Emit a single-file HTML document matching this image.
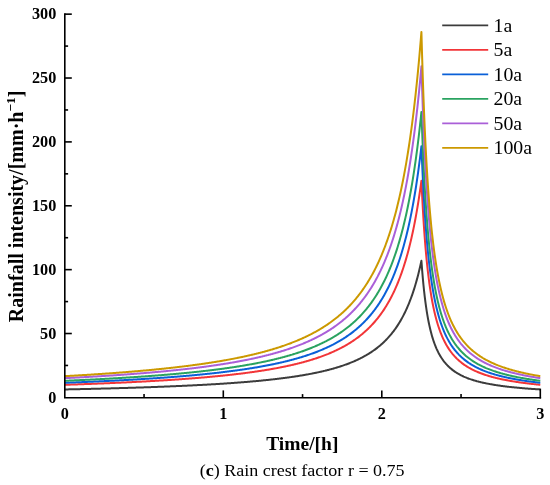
<!DOCTYPE html>
<html><head><meta charset="utf-8"><style>
html,body{margin:0;padding:0;background:#fff;}
svg{display:block;}
</style></head><body>
<svg width="550" height="485" viewBox="0 0 550 485">
<rect width="550" height="485" fill="#fff"/>
<g fill="none" stroke-width="2.0" stroke-linejoin="round" stroke-linecap="butt">
<path d="M64.80,389.46 L65.46,389.44 L66.12,389.43 L66.78,389.41 L67.44,389.40 L68.10,389.39 L68.76,389.37 L69.42,389.36 L70.08,389.35 L70.74,389.33 L71.40,389.32 L72.06,389.30 L72.72,389.29 L73.39,389.27 L74.05,389.26 L74.71,389.25 L75.37,389.23 L76.03,389.22 L76.69,389.20 L77.35,389.19 L78.01,389.17 L78.67,389.16 L79.33,389.14 L79.99,389.13 L80.65,389.11 L81.31,389.10 L81.97,389.08 L82.63,389.07 L83.29,389.05 L83.95,389.04 L84.61,389.02 L85.27,389.01 L85.93,388.99 L86.59,388.98 L87.25,388.96 L87.91,388.95 L88.57,388.93 L89.24,388.92 L89.90,388.90 L90.56,388.88 L91.22,388.87 L91.88,388.85 L92.54,388.84 L93.20,388.82 L93.86,388.80 L94.52,388.79 L95.18,388.77 L95.84,388.76 L96.50,388.74 L97.16,388.72 L97.82,388.71 L98.48,388.69 L99.14,388.67 L99.80,388.66 L100.46,388.64 L101.12,388.62 L101.78,388.61 L102.44,388.59 L103.10,388.57 L103.76,388.55 L104.42,388.54 L105.09,388.52 L105.75,388.50 L106.41,388.49 L107.07,388.47 L107.73,388.45 L108.39,388.43 L109.05,388.42 L109.71,388.40 L110.37,388.38 L111.03,388.36 L111.69,388.34 L112.35,388.33 L113.01,388.31 L113.67,388.29 L114.33,388.27 L114.99,388.25 L115.65,388.23 L116.31,388.22 L116.97,388.20 L117.63,388.18 L118.29,388.16 L118.95,388.14 L119.61,388.12 L120.27,388.10 L120.94,388.08 L121.60,388.07 L122.26,388.05 L122.92,388.03 L123.58,388.01 L124.24,387.99 L124.90,387.97 L125.56,387.95 L126.22,387.93 L126.88,387.91 L127.54,387.89 L128.20,387.87 L128.86,387.85 L129.52,387.83 L130.18,387.81 L130.84,387.79 L131.50,387.77 L132.16,387.75 L132.82,387.73 L133.48,387.71 L134.14,387.69 L134.80,387.66 L135.46,387.64 L136.12,387.62 L136.79,387.60 L137.45,387.58 L138.11,387.56 L138.77,387.54 L139.43,387.51 L140.09,387.49 L140.75,387.47 L141.41,387.45 L142.07,387.43 L142.73,387.41 L143.39,387.38 L144.05,387.36 L144.71,387.34 L145.37,387.32 L146.03,387.29 L146.69,387.27 L147.35,387.25 L148.01,387.22 L148.67,387.20 L149.33,387.18 L149.99,387.15 L150.65,387.13 L151.31,387.11 L151.97,387.08 L152.64,387.06 L153.30,387.04 L153.96,387.01 L154.62,386.99 L155.28,386.96 L155.94,386.94 L156.60,386.92 L157.26,386.89 L157.92,386.87 L158.58,386.84 L159.24,386.82 L159.90,386.79 L160.56,386.77 L161.22,386.74 L161.88,386.72 L162.54,386.69 L163.20,386.66 L163.86,386.64 L164.52,386.61 L165.18,386.59 L165.84,386.56 L166.50,386.53 L167.16,386.51 L167.82,386.48 L168.49,386.45 L169.15,386.43 L169.81,386.40 L170.47,386.37 L171.13,386.35 L171.79,386.32 L172.45,386.29 L173.11,386.26 L173.77,386.24 L174.43,386.21 L175.09,386.18 L175.75,386.15 L176.41,386.12 L177.07,386.09 L177.73,386.06 L178.39,386.04 L179.05,386.01 L179.71,385.98 L180.37,385.95 L181.03,385.92 L181.69,385.89 L182.35,385.86 L183.01,385.83 L183.67,385.80 L184.34,385.77 L185.00,385.74 L185.66,385.71 L186.32,385.68 L186.98,385.65 L187.64,385.61 L188.30,385.58 L188.96,385.55 L189.62,385.52 L190.28,385.49 L190.94,385.46 L191.60,385.42 L192.26,385.39 L192.92,385.36 L193.58,385.33 L194.24,385.29 L194.90,385.26 L195.56,385.23 L196.22,385.19 L196.88,385.16 L197.54,385.12 L198.20,385.09 L198.86,385.06 L199.52,385.02 L200.19,384.99 L200.85,384.95 L201.51,384.92 L202.17,384.88 L202.83,384.85 L203.49,384.81 L204.15,384.77 L204.81,384.74 L205.47,384.70 L206.13,384.66 L206.79,384.63 L207.45,384.59 L208.11,384.55 L208.77,384.52 L209.43,384.48 L210.09,384.44 L210.75,384.40 L211.41,384.36 L212.07,384.33 L212.73,384.29 L213.39,384.25 L214.05,384.21 L214.71,384.17 L215.37,384.13 L216.04,384.09 L216.70,384.05 L217.36,384.01 L218.02,383.97 L218.68,383.93 L219.34,383.88 L220.00,383.84 L220.66,383.80 L221.32,383.76 L221.98,383.72 L222.64,383.67 L223.30,383.63 L223.96,383.59 L224.62,383.54 L225.28,383.50 L225.94,383.46 L226.60,383.41 L227.26,383.37 L227.92,383.32 L228.58,383.28 L229.24,383.23 L229.90,383.18 L230.56,383.14 L231.22,383.09 L231.89,383.05 L232.55,383.00 L233.21,382.95 L233.87,382.90 L234.53,382.85 L235.19,382.81 L235.85,382.76 L236.51,382.71 L237.17,382.66 L237.83,382.61 L238.49,382.56 L239.15,382.51 L239.81,382.46 L240.47,382.41 L241.13,382.36 L241.79,382.30 L242.45,382.25 L243.11,382.20 L243.77,382.15 L244.43,382.09 L245.09,382.04 L245.75,381.99 L246.41,381.93 L247.07,381.88 L247.74,381.82 L248.40,381.76 L249.06,381.71 L249.72,381.65 L250.38,381.60 L251.04,381.54 L251.70,381.48 L252.36,381.42 L253.02,381.36 L253.68,381.30 L254.34,381.25 L255.00,381.19 L255.66,381.13 L256.32,381.06 L256.98,381.00 L257.64,380.94 L258.30,380.88 L258.96,380.82 L259.62,380.75 L260.28,380.69 L260.94,380.63 L261.60,380.56 L262.26,380.50 L262.92,380.43 L263.59,380.36 L264.25,380.30 L264.91,380.23 L265.57,380.16 L266.23,380.09 L266.89,380.03 L267.55,379.96 L268.21,379.89 L268.87,379.82 L269.53,379.75 L270.19,379.67 L270.85,379.60 L271.51,379.53 L272.17,379.46 L272.83,379.38 L273.49,379.31 L274.15,379.23 L274.81,379.16 L275.47,379.08 L276.13,379.00 L276.79,378.92 L277.45,378.85 L278.11,378.77 L278.77,378.69 L279.44,378.61 L280.10,378.53 L280.76,378.44 L281.42,378.36 L282.08,378.28 L282.74,378.19 L283.40,378.11 L284.06,378.02 L284.72,377.94 L285.38,377.85 L286.04,377.76 L286.70,377.67 L287.36,377.58 L288.02,377.49 L288.68,377.40 L289.34,377.31 L290.00,377.22 L290.66,377.13 L291.32,377.03 L291.98,376.94 L292.64,376.84 L293.30,376.74 L293.96,376.65 L294.62,376.55 L295.29,376.45 L295.95,376.35 L296.61,376.24 L297.27,376.14 L297.93,376.04 L298.59,375.93 L299.25,375.83 L299.91,375.72 L300.57,375.61 L301.23,375.50 L301.89,375.39 L302.55,375.28 L303.21,375.17 L303.87,375.06 L304.53,374.94 L305.19,374.83 L305.85,374.71 L306.51,374.59 L307.17,374.48 L307.83,374.36 L308.49,374.23 L309.15,374.11 L309.81,373.99 L310.47,373.86 L311.14,373.74 L311.80,373.61 L312.46,373.48 L313.12,373.35 L313.78,373.22 L314.44,373.08 L315.10,372.95 L315.76,372.81 L316.42,372.67 L317.08,372.53 L317.74,372.39 L318.40,372.25 L319.06,372.11 L319.72,371.96 L320.38,371.81 L321.04,371.67 L321.70,371.51 L322.36,371.36 L323.02,371.21 L323.68,371.05 L324.34,370.89 L325.00,370.74 L325.66,370.57 L326.32,370.41 L326.99,370.25 L327.65,370.08 L328.31,369.91 L328.97,369.74 L329.63,369.56 L330.29,369.39 L330.95,369.21 L331.61,369.03 L332.27,368.85 L332.93,368.67 L333.59,368.48 L334.25,368.29 L334.91,368.10 L335.57,367.91 L336.23,367.71 L336.89,367.51 L337.55,367.31 L338.21,367.11 L338.87,366.90 L339.53,366.69 L340.19,366.48 L340.85,366.27 L341.51,366.05 L342.17,365.83 L342.84,365.61 L343.50,365.38 L344.16,365.15 L344.82,364.92 L345.48,364.68 L346.14,364.44 L346.80,364.20 L347.46,363.96 L348.12,363.71 L348.78,363.46 L349.44,363.20 L350.10,362.94 L350.76,362.68 L351.42,362.41 L352.08,362.14 L352.74,361.86 L353.40,361.58 L354.06,361.30 L354.72,361.01 L355.38,360.72 L356.04,360.42 L356.70,360.12 L357.36,359.81 L358.02,359.50 L358.69,359.19 L359.35,358.87 L360.01,358.54 L360.67,358.21 L361.33,357.88 L361.99,357.54 L362.65,357.19 L363.31,356.84 L363.97,356.48 L364.63,356.11 L365.29,355.74 L365.95,355.37 L366.61,354.98 L367.27,354.59 L367.93,354.20 L368.59,353.79 L369.25,353.38 L369.91,352.97 L370.57,352.54 L371.23,352.11 L371.89,351.67 L372.55,351.22 L373.21,350.77 L373.88,350.30 L374.54,349.83 L375.20,349.35 L375.86,348.86 L376.52,348.36 L377.18,347.85 L377.84,347.33 L378.50,346.80 L379.16,346.26 L379.82,345.71 L380.48,345.14 L381.14,344.57 L381.80,343.99 L382.46,343.39 L383.12,342.78 L383.78,342.16 L384.44,341.53 L385.10,340.88 L385.76,340.22 L386.42,339.54 L387.08,338.85 L387.74,338.15 L388.40,337.43 L389.06,336.69 L389.72,335.93 L390.39,335.16 L391.05,334.38 L391.71,333.57 L392.37,332.74 L393.03,331.90 L393.69,331.04 L394.35,330.15 L395.01,329.24 L395.67,328.31 L396.33,327.36 L396.99,326.39 L397.65,325.39 L398.31,324.36 L398.97,323.31 L399.63,322.23 L400.29,321.12 L400.95,319.98 L401.61,318.81 L402.27,317.61 L402.93,316.38 L403.59,315.11 L404.25,313.81 L404.91,312.47 L405.57,311.10 L406.24,309.68 L406.90,308.22 L407.56,306.71 L408.22,305.17 L408.88,303.57 L409.54,301.93 L410.20,300.23 L410.86,298.48 L411.52,296.67 L412.18,294.81 L412.84,292.89 L413.50,290.90 L414.16,288.84 L414.82,286.71 L415.48,284.51 L416.14,282.23 L416.80,279.87 L417.46,277.43 L418.12,274.90 L418.78,272.27 L419.44,269.54 L420.10,266.71 L420.76,263.77 L421.42,260.71 L422.09,269.54 L422.75,277.43 L423.41,284.51 L424.07,290.90 L424.73,296.67 L425.39,301.93 L426.05,306.71 L426.71,311.10 L427.37,315.11 L428.03,318.81 L428.69,322.23 L429.35,325.39 L430.01,328.31 L430.67,331.04 L431.33,333.57 L431.99,335.93 L432.65,338.15 L433.31,340.22 L433.97,342.16 L434.63,343.99 L435.29,345.71 L435.95,347.33 L436.61,348.86 L437.27,350.30 L437.94,351.67 L438.60,352.97 L439.26,354.20 L439.92,355.37 L440.58,356.48 L441.24,357.54 L441.90,358.54 L442.56,359.50 L443.22,360.42 L443.88,361.30 L444.54,362.14 L445.20,362.94 L445.86,363.71 L446.52,364.44 L447.18,365.15 L447.84,365.83 L448.50,366.48 L449.16,367.11 L449.82,367.71 L450.48,368.29 L451.14,368.85 L451.80,369.39 L452.46,369.91 L453.12,370.41 L453.79,370.89 L454.45,371.36 L455.11,371.81 L455.77,372.25 L456.43,372.67 L457.09,373.08 L457.75,373.48 L458.41,373.86 L459.07,374.23 L459.73,374.59 L460.39,374.94 L461.05,375.28 L461.71,375.61 L462.37,375.93 L463.03,376.24 L463.69,376.55 L464.35,376.84 L465.01,377.13 L465.67,377.40 L466.33,377.67 L466.99,377.94 L467.65,378.19 L468.31,378.44 L468.97,378.69 L469.64,378.92 L470.30,379.16 L470.96,379.38 L471.62,379.60 L472.28,379.82 L472.94,380.03 L473.60,380.23 L474.26,380.43 L474.92,380.63 L475.58,380.82 L476.24,381.00 L476.90,381.19 L477.56,381.36 L478.22,381.54 L478.88,381.71 L479.54,381.88 L480.20,382.04 L480.86,382.20 L481.52,382.36 L482.18,382.51 L482.84,382.66 L483.50,382.81 L484.16,382.95 L484.82,383.09 L485.49,383.23 L486.15,383.37 L486.81,383.50 L487.47,383.63 L488.13,383.76 L488.79,383.88 L489.45,384.01 L490.11,384.13 L490.77,384.25 L491.43,384.36 L492.09,384.48 L492.75,384.59 L493.41,384.70 L494.07,384.81 L494.73,384.92 L495.39,385.02 L496.05,385.12 L496.71,385.23 L497.37,385.33 L498.03,385.42 L498.69,385.52 L499.35,385.61 L500.01,385.71 L500.67,385.80 L501.34,385.89 L502.00,385.98 L502.66,386.06 L503.32,386.15 L503.98,386.24 L504.64,386.32 L505.30,386.40 L505.96,386.48 L506.62,386.56 L507.28,386.64 L507.94,386.72 L508.60,386.79 L509.26,386.87 L509.92,386.94 L510.58,387.01 L511.24,387.08 L511.90,387.15 L512.56,387.22 L513.22,387.29 L513.88,387.36 L514.54,387.43 L515.20,387.49 L515.86,387.56 L516.52,387.62 L517.19,387.69 L517.85,387.75 L518.51,387.81 L519.17,387.87 L519.83,387.93 L520.49,387.99 L521.15,388.05 L521.81,388.10 L522.47,388.16 L523.13,388.22 L523.79,388.27 L524.45,388.33 L525.11,388.38 L525.77,388.43 L526.43,388.49 L527.09,388.54 L527.75,388.59 L528.41,388.64 L529.07,388.69 L529.73,388.74 L530.39,388.79 L531.05,388.84 L531.71,388.88 L532.38,388.93 L533.04,388.98 L533.70,389.02 L534.36,389.07 L535.02,389.11 L535.68,389.16 L536.34,389.20 L537.00,389.25 L537.66,389.29 L538.32,389.33 L538.98,389.37 L539.64,389.41 L540.30,389.46" stroke="#3c3c3c" />
<path d="M64.80,384.81 L65.46,384.79 L66.12,384.76 L66.78,384.74 L67.44,384.72 L68.10,384.70 L68.76,384.68 L69.42,384.65 L70.08,384.63 L70.74,384.61 L71.40,384.59 L72.06,384.57 L72.72,384.54 L73.39,384.52 L74.05,384.50 L74.71,384.48 L75.37,384.45 L76.03,384.43 L76.69,384.41 L77.35,384.38 L78.01,384.36 L78.67,384.34 L79.33,384.31 L79.99,384.29 L80.65,384.27 L81.31,384.24 L81.97,384.22 L82.63,384.19 L83.29,384.17 L83.95,384.15 L84.61,384.12 L85.27,384.10 L85.93,384.07 L86.59,384.05 L87.25,384.03 L87.91,384.00 L88.57,383.98 L89.24,383.95 L89.90,383.93 L90.56,383.90 L91.22,383.88 L91.88,383.85 L92.54,383.83 L93.20,383.80 L93.86,383.78 L94.52,383.75 L95.18,383.72 L95.84,383.70 L96.50,383.67 L97.16,383.65 L97.82,383.62 L98.48,383.59 L99.14,383.57 L99.80,383.54 L100.46,383.51 L101.12,383.49 L101.78,383.46 L102.44,383.43 L103.10,383.41 L103.76,383.38 L104.42,383.35 L105.09,383.33 L105.75,383.30 L106.41,383.27 L107.07,383.24 L107.73,383.22 L108.39,383.19 L109.05,383.16 L109.71,383.13 L110.37,383.10 L111.03,383.07 L111.69,383.05 L112.35,383.02 L113.01,382.99 L113.67,382.96 L114.33,382.93 L114.99,382.90 L115.65,382.87 L116.31,382.84 L116.97,382.81 L117.63,382.78 L118.29,382.75 L118.95,382.72 L119.61,382.69 L120.27,382.66 L120.94,382.63 L121.60,382.60 L122.26,382.57 L122.92,382.54 L123.58,382.51 L124.24,382.48 L124.90,382.45 L125.56,382.42 L126.22,382.39 L126.88,382.36 L127.54,382.32 L128.20,382.29 L128.86,382.26 L129.52,382.23 L130.18,382.20 L130.84,382.16 L131.50,382.13 L132.16,382.10 L132.82,382.07 L133.48,382.03 L134.14,382.00 L134.80,381.97 L135.46,381.93 L136.12,381.90 L136.79,381.87 L137.45,381.83 L138.11,381.80 L138.77,381.77 L139.43,381.73 L140.09,381.70 L140.75,381.66 L141.41,381.63 L142.07,381.59 L142.73,381.56 L143.39,381.52 L144.05,381.49 L144.71,381.45 L145.37,381.42 L146.03,381.38 L146.69,381.34 L147.35,381.31 L148.01,381.27 L148.67,381.23 L149.33,381.20 L149.99,381.16 L150.65,381.12 L151.31,381.09 L151.97,381.05 L152.64,381.01 L153.30,380.97 L153.96,380.94 L154.62,380.90 L155.28,380.86 L155.94,380.82 L156.60,380.78 L157.26,380.74 L157.92,380.70 L158.58,380.66 L159.24,380.62 L159.90,380.59 L160.56,380.55 L161.22,380.51 L161.88,380.46 L162.54,380.42 L163.20,380.38 L163.86,380.34 L164.52,380.30 L165.18,380.26 L165.84,380.22 L166.50,380.18 L167.16,380.13 L167.82,380.09 L168.49,380.05 L169.15,380.01 L169.81,379.96 L170.47,379.92 L171.13,379.88 L171.79,379.83 L172.45,379.79 L173.11,379.75 L173.77,379.70 L174.43,379.66 L175.09,379.61 L175.75,379.57 L176.41,379.52 L177.07,379.48 L177.73,379.43 L178.39,379.39 L179.05,379.34 L179.71,379.29 L180.37,379.25 L181.03,379.20 L181.69,379.15 L182.35,379.11 L183.01,379.06 L183.67,379.01 L184.34,378.96 L185.00,378.91 L185.66,378.87 L186.32,378.82 L186.98,378.77 L187.64,378.72 L188.30,378.67 L188.96,378.62 L189.62,378.57 L190.28,378.52 L190.94,378.47 L191.60,378.42 L192.26,378.36 L192.92,378.31 L193.58,378.26 L194.24,378.21 L194.90,378.16 L195.56,378.10 L196.22,378.05 L196.88,378.00 L197.54,377.94 L198.20,377.89 L198.86,377.83 L199.52,377.78 L200.19,377.72 L200.85,377.67 L201.51,377.61 L202.17,377.56 L202.83,377.50 L203.49,377.44 L204.15,377.39 L204.81,377.33 L205.47,377.27 L206.13,377.21 L206.79,377.16 L207.45,377.10 L208.11,377.04 L208.77,376.98 L209.43,376.92 L210.09,376.86 L210.75,376.80 L211.41,376.74 L212.07,376.68 L212.73,376.61 L213.39,376.55 L214.05,376.49 L214.71,376.43 L215.37,376.36 L216.04,376.30 L216.70,376.24 L217.36,376.17 L218.02,376.11 L218.68,376.04 L219.34,375.98 L220.00,375.91 L220.66,375.84 L221.32,375.78 L221.98,375.71 L222.64,375.64 L223.30,375.57 L223.96,375.51 L224.62,375.44 L225.28,375.37 L225.94,375.30 L226.60,375.23 L227.26,375.16 L227.92,375.08 L228.58,375.01 L229.24,374.94 L229.90,374.87 L230.56,374.79 L231.22,374.72 L231.89,374.65 L232.55,374.57 L233.21,374.50 L233.87,374.42 L234.53,374.35 L235.19,374.27 L235.85,374.19 L236.51,374.11 L237.17,374.04 L237.83,373.96 L238.49,373.88 L239.15,373.80 L239.81,373.72 L240.47,373.64 L241.13,373.55 L241.79,373.47 L242.45,373.39 L243.11,373.31 L243.77,373.22 L244.43,373.14 L245.09,373.05 L245.75,372.97 L246.41,372.88 L247.07,372.79 L247.74,372.71 L248.40,372.62 L249.06,372.53 L249.72,372.44 L250.38,372.35 L251.04,372.26 L251.70,372.17 L252.36,372.07 L253.02,371.98 L253.68,371.89 L254.34,371.79 L255.00,371.70 L255.66,371.60 L256.32,371.51 L256.98,371.41 L257.64,371.31 L258.30,371.21 L258.96,371.11 L259.62,371.01 L260.28,370.91 L260.94,370.81 L261.60,370.71 L262.26,370.61 L262.92,370.50 L263.59,370.40 L264.25,370.29 L264.91,370.19 L265.57,370.08 L266.23,369.97 L266.89,369.86 L267.55,369.75 L268.21,369.64 L268.87,369.53 L269.53,369.42 L270.19,369.30 L270.85,369.19 L271.51,369.07 L272.17,368.96 L272.83,368.84 L273.49,368.72 L274.15,368.60 L274.81,368.48 L275.47,368.36 L276.13,368.24 L276.79,368.12 L277.45,367.99 L278.11,367.87 L278.77,367.74 L279.44,367.61 L280.10,367.48 L280.76,367.35 L281.42,367.22 L282.08,367.09 L282.74,366.96 L283.40,366.82 L284.06,366.69 L284.72,366.55 L285.38,366.41 L286.04,366.27 L286.70,366.13 L287.36,365.99 L288.02,365.85 L288.68,365.70 L289.34,365.56 L290.00,365.41 L290.66,365.26 L291.32,365.11 L291.98,364.96 L292.64,364.81 L293.30,364.66 L293.96,364.50 L294.62,364.35 L295.29,364.19 L295.95,364.03 L296.61,363.87 L297.27,363.70 L297.93,363.54 L298.59,363.37 L299.25,363.21 L299.91,363.04 L300.57,362.87 L301.23,362.69 L301.89,362.52 L302.55,362.34 L303.21,362.17 L303.87,361.99 L304.53,361.81 L305.19,361.62 L305.85,361.44 L306.51,361.25 L307.17,361.06 L307.83,360.87 L308.49,360.68 L309.15,360.49 L309.81,360.29 L310.47,360.09 L311.14,359.89 L311.80,359.69 L312.46,359.48 L313.12,359.28 L313.78,359.07 L314.44,358.86 L315.10,358.64 L315.76,358.43 L316.42,358.21 L317.08,357.99 L317.74,357.76 L318.40,357.54 L319.06,357.31 L319.72,357.08 L320.38,356.84 L321.04,356.61 L321.70,356.37 L322.36,356.13 L323.02,355.88 L323.68,355.64 L324.34,355.39 L325.00,355.13 L325.66,354.88 L326.32,354.62 L326.99,354.36 L327.65,354.09 L328.31,353.83 L328.97,353.55 L329.63,353.28 L330.29,353.00 L330.95,352.72 L331.61,352.44 L332.27,352.15 L332.93,351.86 L333.59,351.56 L334.25,351.26 L334.91,350.96 L335.57,350.65 L336.23,350.34 L336.89,350.03 L337.55,349.71 L338.21,349.39 L338.87,349.06 L339.53,348.73 L340.19,348.39 L340.85,348.05 L341.51,347.71 L342.17,347.36 L342.84,347.01 L343.50,346.65 L344.16,346.28 L344.82,345.92 L345.48,345.54 L346.14,345.16 L346.80,344.78 L347.46,344.39 L348.12,344.00 L348.78,343.60 L349.44,343.19 L350.10,342.78 L350.76,342.36 L351.42,341.94 L352.08,341.51 L352.74,341.07 L353.40,340.63 L354.06,340.18 L354.72,339.72 L355.38,339.26 L356.04,338.79 L356.70,338.31 L357.36,337.83 L358.02,337.33 L358.69,336.83 L359.35,336.33 L360.01,335.81 L360.67,335.29 L361.33,334.75 L361.99,334.21 L362.65,333.66 L363.31,333.10 L363.97,332.54 L364.63,331.96 L365.29,331.37 L365.95,330.77 L366.61,330.17 L367.27,329.55 L367.93,328.92 L368.59,328.28 L369.25,327.63 L369.91,326.97 L370.57,326.30 L371.23,325.61 L371.89,324.92 L372.55,324.21 L373.21,323.48 L373.88,322.75 L374.54,322.00 L375.20,321.23 L375.86,320.46 L376.52,319.66 L377.18,318.85 L377.84,318.03 L378.50,317.19 L379.16,316.34 L379.82,315.46 L380.48,314.57 L381.14,313.66 L381.80,312.74 L382.46,311.79 L383.12,310.83 L383.78,309.84 L384.44,308.84 L385.10,307.81 L385.76,306.76 L386.42,305.69 L387.08,304.60 L387.74,303.48 L388.40,302.34 L389.06,301.17 L389.72,299.97 L390.39,298.75 L391.05,297.50 L391.71,296.23 L392.37,294.92 L393.03,293.58 L393.69,292.21 L394.35,290.81 L395.01,289.37 L395.67,287.90 L396.33,286.39 L396.99,284.84 L397.65,283.25 L398.31,281.63 L398.97,279.96 L399.63,278.25 L400.29,276.49 L400.95,274.69 L401.61,272.84 L402.27,270.94 L402.93,268.98 L403.59,266.97 L404.25,264.91 L404.91,262.79 L405.57,260.60 L406.24,258.36 L406.90,256.04 L407.56,253.66 L408.22,251.21 L408.88,248.68 L409.54,246.07 L410.20,243.38 L410.86,240.61 L411.52,237.75 L412.18,234.79 L412.84,231.74 L413.50,228.59 L414.16,225.33 L414.82,221.95 L415.48,218.47 L416.14,214.86 L416.80,211.12 L417.46,207.24 L418.12,203.23 L418.78,199.06 L419.44,194.74 L420.10,190.25 L420.76,185.58 L421.42,180.74 L422.09,194.74 L422.75,207.24 L423.41,218.47 L424.07,228.59 L424.73,237.75 L425.39,246.07 L426.05,253.66 L426.71,260.60 L427.37,266.97 L428.03,272.84 L428.69,278.25 L429.35,283.25 L430.01,287.90 L430.67,292.21 L431.33,296.23 L431.99,299.97 L432.65,303.48 L433.31,306.76 L433.97,309.84 L434.63,312.74 L435.29,315.46 L435.95,318.03 L436.61,320.46 L437.27,322.75 L437.94,324.92 L438.60,326.97 L439.26,328.92 L439.92,330.77 L440.58,332.54 L441.24,334.21 L441.90,335.81 L442.56,337.33 L443.22,338.79 L443.88,340.18 L444.54,341.51 L445.20,342.78 L445.86,344.00 L446.52,345.16 L447.18,346.28 L447.84,347.36 L448.50,348.39 L449.16,349.39 L449.82,350.34 L450.48,351.26 L451.14,352.15 L451.80,353.00 L452.46,353.83 L453.12,354.62 L453.79,355.39 L454.45,356.13 L455.11,356.84 L455.77,357.54 L456.43,358.21 L457.09,358.86 L457.75,359.48 L458.41,360.09 L459.07,360.68 L459.73,361.25 L460.39,361.81 L461.05,362.34 L461.71,362.87 L462.37,363.37 L463.03,363.87 L463.69,364.35 L464.35,364.81 L465.01,365.26 L465.67,365.70 L466.33,366.13 L466.99,366.55 L467.65,366.96 L468.31,367.35 L468.97,367.74 L469.64,368.12 L470.30,368.48 L470.96,368.84 L471.62,369.19 L472.28,369.53 L472.94,369.86 L473.60,370.19 L474.26,370.50 L474.92,370.81 L475.58,371.11 L476.24,371.41 L476.90,371.70 L477.56,371.98 L478.22,372.26 L478.88,372.53 L479.54,372.79 L480.20,373.05 L480.86,373.31 L481.52,373.55 L482.18,373.80 L482.84,374.04 L483.50,374.27 L484.16,374.50 L484.82,374.72 L485.49,374.94 L486.15,375.16 L486.81,375.37 L487.47,375.57 L488.13,375.78 L488.79,375.98 L489.45,376.17 L490.11,376.36 L490.77,376.55 L491.43,376.74 L492.09,376.92 L492.75,377.10 L493.41,377.27 L494.07,377.44 L494.73,377.61 L495.39,377.78 L496.05,377.94 L496.71,378.10 L497.37,378.26 L498.03,378.42 L498.69,378.57 L499.35,378.72 L500.01,378.87 L500.67,379.01 L501.34,379.15 L502.00,379.29 L502.66,379.43 L503.32,379.57 L503.98,379.70 L504.64,379.83 L505.30,379.96 L505.96,380.09 L506.62,380.22 L507.28,380.34 L507.94,380.46 L508.60,380.59 L509.26,380.70 L509.92,380.82 L510.58,380.94 L511.24,381.05 L511.90,381.16 L512.56,381.27 L513.22,381.38 L513.88,381.49 L514.54,381.59 L515.20,381.70 L515.86,381.80 L516.52,381.90 L517.19,382.00 L517.85,382.10 L518.51,382.20 L519.17,382.29 L519.83,382.39 L520.49,382.48 L521.15,382.57 L521.81,382.66 L522.47,382.75 L523.13,382.84 L523.79,382.93 L524.45,383.02 L525.11,383.10 L525.77,383.19 L526.43,383.27 L527.09,383.35 L527.75,383.43 L528.41,383.51 L529.07,383.59 L529.73,383.67 L530.39,383.75 L531.05,383.83 L531.71,383.90 L532.38,383.98 L533.04,384.05 L533.70,384.12 L534.36,384.19 L535.02,384.27 L535.68,384.34 L536.34,384.41 L537.00,384.48 L537.66,384.54 L538.32,384.61 L538.98,384.68 L539.64,384.74 L540.30,384.81" stroke="#f23538" />
<path d="M64.80,382.80 L65.46,382.78 L66.12,382.75 L66.78,382.73 L67.44,382.70 L68.10,382.68 L68.76,382.65 L69.42,382.63 L70.08,382.60 L70.74,382.57 L71.40,382.55 L72.06,382.52 L72.72,382.50 L73.39,382.47 L74.05,382.44 L74.71,382.42 L75.37,382.39 L76.03,382.36 L76.69,382.34 L77.35,382.31 L78.01,382.28 L78.67,382.26 L79.33,382.23 L79.99,382.20 L80.65,382.18 L81.31,382.15 L81.97,382.12 L82.63,382.09 L83.29,382.06 L83.95,382.04 L84.61,382.01 L85.27,381.98 L85.93,381.95 L86.59,381.92 L87.25,381.90 L87.91,381.87 L88.57,381.84 L89.24,381.81 L89.90,381.78 L90.56,381.75 L91.22,381.72 L91.88,381.69 L92.54,381.66 L93.20,381.64 L93.86,381.61 L94.52,381.58 L95.18,381.55 L95.84,381.52 L96.50,381.49 L97.16,381.46 L97.82,381.43 L98.48,381.40 L99.14,381.37 L99.80,381.33 L100.46,381.30 L101.12,381.27 L101.78,381.24 L102.44,381.21 L103.10,381.18 L103.76,381.15 L104.42,381.12 L105.09,381.08 L105.75,381.05 L106.41,381.02 L107.07,380.99 L107.73,380.96 L108.39,380.92 L109.05,380.89 L109.71,380.86 L110.37,380.83 L111.03,380.79 L111.69,380.76 L112.35,380.73 L113.01,380.69 L113.67,380.66 L114.33,380.63 L114.99,380.59 L115.65,380.56 L116.31,380.53 L116.97,380.49 L117.63,380.46 L118.29,380.42 L118.95,380.39 L119.61,380.35 L120.27,380.32 L120.94,380.28 L121.60,380.25 L122.26,380.21 L122.92,380.18 L123.58,380.14 L124.24,380.11 L124.90,380.07 L125.56,380.03 L126.22,380.00 L126.88,379.96 L127.54,379.93 L128.20,379.89 L128.86,379.85 L129.52,379.81 L130.18,379.78 L130.84,379.74 L131.50,379.70 L132.16,379.66 L132.82,379.63 L133.48,379.59 L134.14,379.55 L134.80,379.51 L135.46,379.47 L136.12,379.43 L136.79,379.39 L137.45,379.36 L138.11,379.32 L138.77,379.28 L139.43,379.24 L140.09,379.20 L140.75,379.16 L141.41,379.12 L142.07,379.08 L142.73,379.04 L143.39,379.00 L144.05,378.95 L144.71,378.91 L145.37,378.87 L146.03,378.83 L146.69,378.79 L147.35,378.75 L148.01,378.70 L148.67,378.66 L149.33,378.62 L149.99,378.58 L150.65,378.53 L151.31,378.49 L151.97,378.45 L152.64,378.40 L153.30,378.36 L153.96,378.31 L154.62,378.27 L155.28,378.23 L155.94,378.18 L156.60,378.14 L157.26,378.09 L157.92,378.05 L158.58,378.00 L159.24,377.95 L159.90,377.91 L160.56,377.86 L161.22,377.82 L161.88,377.77 L162.54,377.72 L163.20,377.67 L163.86,377.63 L164.52,377.58 L165.18,377.53 L165.84,377.48 L166.50,377.43 L167.16,377.39 L167.82,377.34 L168.49,377.29 L169.15,377.24 L169.81,377.19 L170.47,377.14 L171.13,377.09 L171.79,377.04 L172.45,376.99 L173.11,376.94 L173.77,376.89 L174.43,376.83 L175.09,376.78 L175.75,376.73 L176.41,376.68 L177.07,376.63 L177.73,376.57 L178.39,376.52 L179.05,376.47 L179.71,376.41 L180.37,376.36 L181.03,376.30 L181.69,376.25 L182.35,376.19 L183.01,376.14 L183.67,376.08 L184.34,376.03 L185.00,375.97 L185.66,375.92 L186.32,375.86 L186.98,375.80 L187.64,375.74 L188.30,375.69 L188.96,375.63 L189.62,375.57 L190.28,375.51 L190.94,375.45 L191.60,375.39 L192.26,375.33 L192.92,375.27 L193.58,375.21 L194.24,375.15 L194.90,375.09 L195.56,375.03 L196.22,374.97 L196.88,374.91 L197.54,374.84 L198.20,374.78 L198.86,374.72 L199.52,374.66 L200.19,374.59 L200.85,374.53 L201.51,374.46 L202.17,374.40 L202.83,374.33 L203.49,374.27 L204.15,374.20 L204.81,374.13 L205.47,374.07 L206.13,374.00 L206.79,373.93 L207.45,373.86 L208.11,373.80 L208.77,373.73 L209.43,373.66 L210.09,373.59 L210.75,373.52 L211.41,373.45 L212.07,373.38 L212.73,373.30 L213.39,373.23 L214.05,373.16 L214.71,373.09 L215.37,373.01 L216.04,372.94 L216.70,372.87 L217.36,372.79 L218.02,372.72 L218.68,372.64 L219.34,372.57 L220.00,372.49 L220.66,372.41 L221.32,372.33 L221.98,372.26 L222.64,372.18 L223.30,372.10 L223.96,372.02 L224.62,371.94 L225.28,371.86 L225.94,371.78 L226.60,371.70 L227.26,371.61 L227.92,371.53 L228.58,371.45 L229.24,371.36 L229.90,371.28 L230.56,371.20 L231.22,371.11 L231.89,371.02 L232.55,370.94 L233.21,370.85 L233.87,370.76 L234.53,370.67 L235.19,370.59 L235.85,370.50 L236.51,370.41 L237.17,370.32 L237.83,370.22 L238.49,370.13 L239.15,370.04 L239.81,369.95 L240.47,369.85 L241.13,369.76 L241.79,369.66 L242.45,369.57 L243.11,369.47 L243.77,369.37 L244.43,369.27 L245.09,369.18 L245.75,369.08 L246.41,368.98 L247.07,368.88 L247.74,368.77 L248.40,368.67 L249.06,368.57 L249.72,368.47 L250.38,368.36 L251.04,368.26 L251.70,368.15 L252.36,368.04 L253.02,367.94 L253.68,367.83 L254.34,367.72 L255.00,367.61 L255.66,367.50 L256.32,367.39 L256.98,367.27 L257.64,367.16 L258.30,367.05 L258.96,366.93 L259.62,366.81 L260.28,366.70 L260.94,366.58 L261.60,366.46 L262.26,366.34 L262.92,366.22 L263.59,366.10 L264.25,365.98 L264.91,365.85 L265.57,365.73 L266.23,365.60 L266.89,365.48 L267.55,365.35 L268.21,365.22 L268.87,365.09 L269.53,364.96 L270.19,364.83 L270.85,364.70 L271.51,364.56 L272.17,364.43 L272.83,364.29 L273.49,364.16 L274.15,364.02 L274.81,363.88 L275.47,363.74 L276.13,363.60 L276.79,363.45 L277.45,363.31 L278.11,363.16 L278.77,363.02 L279.44,362.87 L280.10,362.72 L280.76,362.57 L281.42,362.42 L282.08,362.27 L282.74,362.11 L283.40,361.96 L284.06,361.80 L284.72,361.64 L285.38,361.48 L286.04,361.32 L286.70,361.16 L287.36,360.99 L288.02,360.83 L288.68,360.66 L289.34,360.49 L290.00,360.32 L290.66,360.15 L291.32,359.97 L291.98,359.80 L292.64,359.62 L293.30,359.45 L293.96,359.27 L294.62,359.08 L295.29,358.90 L295.95,358.72 L296.61,358.53 L297.27,358.34 L297.93,358.15 L298.59,357.96 L299.25,357.76 L299.91,357.57 L300.57,357.37 L301.23,357.17 L301.89,356.97 L302.55,356.76 L303.21,356.56 L303.87,356.35 L304.53,356.14 L305.19,355.93 L305.85,355.71 L306.51,355.50 L307.17,355.28 L307.83,355.06 L308.49,354.84 L309.15,354.61 L309.81,354.38 L310.47,354.15 L311.14,353.92 L311.80,353.68 L312.46,353.45 L313.12,353.21 L313.78,352.96 L314.44,352.72 L315.10,352.47 L315.76,352.22 L316.42,351.97 L317.08,351.71 L317.74,351.45 L318.40,351.19 L319.06,350.93 L319.72,350.66 L320.38,350.39 L321.04,350.11 L321.70,349.84 L322.36,349.56 L323.02,349.28 L323.68,348.99 L324.34,348.70 L325.00,348.41 L325.66,348.11 L326.32,347.81 L326.99,347.51 L327.65,347.20 L328.31,346.89 L328.97,346.57 L329.63,346.26 L330.29,345.93 L330.95,345.61 L331.61,345.28 L332.27,344.94 L332.93,344.61 L333.59,344.26 L334.25,343.92 L334.91,343.57 L335.57,343.21 L336.23,342.85 L336.89,342.49 L337.55,342.12 L338.21,341.74 L338.87,341.36 L339.53,340.98 L340.19,340.59 L340.85,340.20 L341.51,339.80 L342.17,339.39 L342.84,338.98 L343.50,338.57 L344.16,338.15 L344.82,337.72 L345.48,337.29 L346.14,336.85 L346.80,336.40 L347.46,335.95 L348.12,335.49 L348.78,335.03 L349.44,334.56 L350.10,334.08 L350.76,333.60 L351.42,333.11 L352.08,332.61 L352.74,332.10 L353.40,331.59 L354.06,331.07 L354.72,330.54 L355.38,330.00 L356.04,329.46 L356.70,328.90 L357.36,328.34 L358.02,327.77 L358.69,327.19 L359.35,326.60 L360.01,326.00 L360.67,325.40 L361.33,324.78 L361.99,324.15 L362.65,323.52 L363.31,322.87 L363.97,322.21 L364.63,321.54 L365.29,320.86 L365.95,320.17 L366.61,319.46 L367.27,318.75 L367.93,318.02 L368.59,317.28 L369.25,316.53 L369.91,315.76 L370.57,314.98 L371.23,314.19 L371.89,313.38 L372.55,312.55 L373.21,311.72 L373.88,310.86 L374.54,309.99 L375.20,309.11 L375.86,308.21 L376.52,307.29 L377.18,306.35 L377.84,305.40 L378.50,304.42 L379.16,303.43 L379.82,302.42 L380.48,301.39 L381.14,300.33 L381.80,299.26 L382.46,298.16 L383.12,297.05 L383.78,295.90 L384.44,294.74 L385.10,293.55 L385.76,292.33 L386.42,291.09 L387.08,289.82 L387.74,288.53 L388.40,287.20 L389.06,285.85 L389.72,284.46 L390.39,283.05 L391.05,281.60 L391.71,280.12 L392.37,278.60 L393.03,277.05 L393.69,275.46 L394.35,273.84 L395.01,272.17 L395.67,270.46 L396.33,268.71 L396.99,266.92 L397.65,265.08 L398.31,263.20 L398.97,261.26 L399.63,259.28 L400.29,257.24 L400.95,255.15 L401.61,253.01 L402.27,250.80 L402.93,248.54 L403.59,246.21 L404.25,243.82 L404.91,241.36 L405.57,238.82 L406.24,236.22 L406.90,233.54 L407.56,230.78 L408.22,227.93 L408.88,225.00 L409.54,221.98 L410.20,218.86 L410.86,215.65 L411.52,212.33 L412.18,208.90 L412.84,205.37 L413.50,201.71 L414.16,197.93 L414.82,194.02 L415.48,189.98 L416.14,185.79 L416.80,181.46 L417.46,176.97 L418.12,172.31 L418.78,167.48 L419.44,162.47 L420.10,157.27 L420.76,151.86 L421.42,146.24 L422.09,162.47 L422.75,176.97 L423.41,189.98 L424.07,201.71 L424.73,212.33 L425.39,221.98 L426.05,230.78 L426.71,238.82 L427.37,246.21 L428.03,253.01 L428.69,259.28 L429.35,265.08 L430.01,270.46 L430.67,275.46 L431.33,280.12 L431.99,284.46 L432.65,288.53 L433.31,292.33 L433.97,295.90 L434.63,299.26 L435.29,302.42 L435.95,305.40 L436.61,308.21 L437.27,310.86 L437.94,313.38 L438.60,315.76 L439.26,318.02 L439.92,320.17 L440.58,322.21 L441.24,324.15 L441.90,326.00 L442.56,327.77 L443.22,329.46 L443.88,331.07 L444.54,332.61 L445.20,334.08 L445.86,335.49 L446.52,336.85 L447.18,338.15 L447.84,339.39 L448.50,340.59 L449.16,341.74 L449.82,342.85 L450.48,343.92 L451.14,344.94 L451.80,345.93 L452.46,346.89 L453.12,347.81 L453.79,348.70 L454.45,349.56 L455.11,350.39 L455.77,351.19 L456.43,351.97 L457.09,352.72 L457.75,353.45 L458.41,354.15 L459.07,354.84 L459.73,355.50 L460.39,356.14 L461.05,356.76 L461.71,357.37 L462.37,357.96 L463.03,358.53 L463.69,359.08 L464.35,359.62 L465.01,360.15 L465.67,360.66 L466.33,361.16 L466.99,361.64 L467.65,362.11 L468.31,362.57 L468.97,363.02 L469.64,363.45 L470.30,363.88 L470.96,364.29 L471.62,364.70 L472.28,365.09 L472.94,365.48 L473.60,365.85 L474.26,366.22 L474.92,366.58 L475.58,366.93 L476.24,367.27 L476.90,367.61 L477.56,367.94 L478.22,368.26 L478.88,368.57 L479.54,368.88 L480.20,369.18 L480.86,369.47 L481.52,369.76 L482.18,370.04 L482.84,370.32 L483.50,370.59 L484.16,370.85 L484.82,371.11 L485.49,371.36 L486.15,371.61 L486.81,371.86 L487.47,372.10 L488.13,372.33 L488.79,372.57 L489.45,372.79 L490.11,373.01 L490.77,373.23 L491.43,373.45 L492.09,373.66 L492.75,373.86 L493.41,374.07 L494.07,374.27 L494.73,374.46 L495.39,374.66 L496.05,374.84 L496.71,375.03 L497.37,375.21 L498.03,375.39 L498.69,375.57 L499.35,375.74 L500.01,375.92 L500.67,376.08 L501.34,376.25 L502.00,376.41 L502.66,376.57 L503.32,376.73 L503.98,376.89 L504.64,377.04 L505.30,377.19 L505.96,377.34 L506.62,377.48 L507.28,377.63 L507.94,377.77 L508.60,377.91 L509.26,378.05 L509.92,378.18 L510.58,378.31 L511.24,378.45 L511.90,378.58 L512.56,378.70 L513.22,378.83 L513.88,378.95 L514.54,379.08 L515.20,379.20 L515.86,379.32 L516.52,379.43 L517.19,379.55 L517.85,379.66 L518.51,379.78 L519.17,379.89 L519.83,380.00 L520.49,380.11 L521.15,380.21 L521.81,380.32 L522.47,380.42 L523.13,380.53 L523.79,380.63 L524.45,380.73 L525.11,380.83 L525.77,380.92 L526.43,381.02 L527.09,381.12 L527.75,381.21 L528.41,381.30 L529.07,381.40 L529.73,381.49 L530.39,381.58 L531.05,381.66 L531.71,381.75 L532.38,381.84 L533.04,381.92 L533.70,382.01 L534.36,382.09 L535.02,382.18 L535.68,382.26 L536.34,382.34 L537.00,382.42 L537.66,382.50 L538.32,382.57 L538.98,382.65 L539.64,382.73 L540.30,382.80" stroke="#0a60d8" />
<path d="M64.80,380.81 L65.46,380.78 L66.12,380.75 L66.78,380.72 L67.44,380.69 L68.10,380.66 L68.76,380.63 L69.42,380.60 L70.08,380.58 L70.74,380.55 L71.40,380.52 L72.06,380.49 L72.72,380.46 L73.39,380.43 L74.05,380.40 L74.71,380.37 L75.37,380.34 L76.03,380.31 L76.69,380.28 L77.35,380.25 L78.01,380.22 L78.67,380.18 L79.33,380.15 L79.99,380.12 L80.65,380.09 L81.31,380.06 L81.97,380.03 L82.63,380.00 L83.29,379.97 L83.95,379.94 L84.61,379.90 L85.27,379.87 L85.93,379.84 L86.59,379.81 L87.25,379.77 L87.91,379.74 L88.57,379.71 L89.24,379.68 L89.90,379.64 L90.56,379.61 L91.22,379.58 L91.88,379.55 L92.54,379.51 L93.20,379.48 L93.86,379.44 L94.52,379.41 L95.18,379.38 L95.84,379.34 L96.50,379.31 L97.16,379.27 L97.82,379.24 L98.48,379.21 L99.14,379.17 L99.80,379.14 L100.46,379.10 L101.12,379.07 L101.78,379.03 L102.44,379.00 L103.10,378.96 L103.76,378.92 L104.42,378.89 L105.09,378.85 L105.75,378.82 L106.41,378.78 L107.07,378.74 L107.73,378.71 L108.39,378.67 L109.05,378.63 L109.71,378.60 L110.37,378.56 L111.03,378.52 L111.69,378.48 L112.35,378.45 L113.01,378.41 L113.67,378.37 L114.33,378.33 L114.99,378.29 L115.65,378.26 L116.31,378.22 L116.97,378.18 L117.63,378.14 L118.29,378.10 L118.95,378.06 L119.61,378.02 L120.27,377.98 L120.94,377.94 L121.60,377.90 L122.26,377.86 L122.92,377.82 L123.58,377.78 L124.24,377.74 L124.90,377.70 L125.56,377.66 L126.22,377.62 L126.88,377.58 L127.54,377.53 L128.20,377.49 L128.86,377.45 L129.52,377.41 L130.18,377.37 L130.84,377.32 L131.50,377.28 L132.16,377.24 L132.82,377.19 L133.48,377.15 L134.14,377.11 L134.80,377.06 L135.46,377.02 L136.12,376.98 L136.79,376.93 L137.45,376.89 L138.11,376.84 L138.77,376.80 L139.43,376.75 L140.09,376.71 L140.75,376.66 L141.41,376.62 L142.07,376.57 L142.73,376.52 L143.39,376.48 L144.05,376.43 L144.71,376.38 L145.37,376.34 L146.03,376.29 L146.69,376.24 L147.35,376.19 L148.01,376.15 L148.67,376.10 L149.33,376.05 L149.99,376.00 L150.65,375.95 L151.31,375.90 L151.97,375.85 L152.64,375.80 L153.30,375.75 L153.96,375.70 L154.62,375.65 L155.28,375.60 L155.94,375.55 L156.60,375.50 L157.26,375.45 L157.92,375.40 L158.58,375.35 L159.24,375.29 L159.90,375.24 L160.56,375.19 L161.22,375.14 L161.88,375.08 L162.54,375.03 L163.20,374.98 L163.86,374.92 L164.52,374.87 L165.18,374.81 L165.84,374.76 L166.50,374.70 L167.16,374.65 L167.82,374.59 L168.49,374.54 L169.15,374.48 L169.81,374.42 L170.47,374.37 L171.13,374.31 L171.79,374.25 L172.45,374.19 L173.11,374.14 L173.77,374.08 L174.43,374.02 L175.09,373.96 L175.75,373.90 L176.41,373.84 L177.07,373.78 L177.73,373.72 L178.39,373.66 L179.05,373.60 L179.71,373.54 L180.37,373.48 L181.03,373.42 L181.69,373.36 L182.35,373.29 L183.01,373.23 L183.67,373.17 L184.34,373.10 L185.00,373.04 L185.66,372.98 L186.32,372.91 L186.98,372.85 L187.64,372.78 L188.30,372.72 L188.96,372.65 L189.62,372.58 L190.28,372.52 L190.94,372.45 L191.60,372.38 L192.26,372.31 L192.92,372.25 L193.58,372.18 L194.24,372.11 L194.90,372.04 L195.56,371.97 L196.22,371.90 L196.88,371.83 L197.54,371.76 L198.20,371.69 L198.86,371.62 L199.52,371.54 L200.19,371.47 L200.85,371.40 L201.51,371.32 L202.17,371.25 L202.83,371.18 L203.49,371.10 L204.15,371.03 L204.81,370.95 L205.47,370.88 L206.13,370.80 L206.79,370.72 L207.45,370.64 L208.11,370.57 L208.77,370.49 L209.43,370.41 L210.09,370.33 L210.75,370.25 L211.41,370.17 L212.07,370.09 L212.73,370.01 L213.39,369.93 L214.05,369.84 L214.71,369.76 L215.37,369.68 L216.04,369.59 L216.70,369.51 L217.36,369.43 L218.02,369.34 L218.68,369.25 L219.34,369.17 L220.00,369.08 L220.66,368.99 L221.32,368.90 L221.98,368.82 L222.64,368.73 L223.30,368.64 L223.96,368.55 L224.62,368.46 L225.28,368.36 L225.94,368.27 L226.60,368.18 L227.26,368.09 L227.92,367.99 L228.58,367.90 L229.24,367.80 L229.90,367.71 L230.56,367.61 L231.22,367.51 L231.89,367.42 L232.55,367.32 L233.21,367.22 L233.87,367.12 L234.53,367.02 L235.19,366.92 L235.85,366.82 L236.51,366.71 L237.17,366.61 L237.83,366.51 L238.49,366.40 L239.15,366.30 L239.81,366.19 L240.47,366.08 L241.13,365.98 L241.79,365.87 L242.45,365.76 L243.11,365.65 L243.77,365.54 L244.43,365.43 L245.09,365.31 L245.75,365.20 L246.41,365.09 L247.07,364.97 L247.74,364.86 L248.40,364.74 L249.06,364.62 L249.72,364.51 L250.38,364.39 L251.04,364.27 L251.70,364.15 L252.36,364.03 L253.02,363.90 L253.68,363.78 L254.34,363.66 L255.00,363.53 L255.66,363.41 L256.32,363.28 L256.98,363.15 L257.64,363.02 L258.30,362.89 L258.96,362.76 L259.62,362.63 L260.28,362.50 L260.94,362.36 L261.60,362.23 L262.26,362.09 L262.92,361.95 L263.59,361.82 L264.25,361.68 L264.91,361.54 L265.57,361.40 L266.23,361.25 L266.89,361.11 L267.55,360.96 L268.21,360.82 L268.87,360.67 L269.53,360.52 L270.19,360.37 L270.85,360.22 L271.51,360.07 L272.17,359.92 L272.83,359.76 L273.49,359.61 L274.15,359.45 L274.81,359.29 L275.47,359.13 L276.13,358.97 L276.79,358.81 L277.45,358.64 L278.11,358.48 L278.77,358.31 L279.44,358.14 L280.10,357.98 L280.76,357.80 L281.42,357.63 L282.08,357.46 L282.74,357.28 L283.40,357.11 L284.06,356.93 L284.72,356.75 L285.38,356.57 L286.04,356.38 L286.70,356.20 L287.36,356.01 L288.02,355.82 L288.68,355.63 L289.34,355.44 L290.00,355.25 L290.66,355.05 L291.32,354.85 L291.98,354.66 L292.64,354.45 L293.30,354.25 L293.96,354.05 L294.62,353.84 L295.29,353.63 L295.95,353.42 L296.61,353.21 L297.27,353.00 L297.93,352.78 L298.59,352.56 L299.25,352.34 L299.91,352.12 L300.57,351.89 L301.23,351.67 L301.89,351.44 L302.55,351.20 L303.21,350.97 L303.87,350.73 L304.53,350.50 L305.19,350.25 L305.85,350.01 L306.51,349.76 L307.17,349.52 L307.83,349.27 L308.49,349.01 L309.15,348.76 L309.81,348.50 L310.47,348.23 L311.14,347.97 L311.80,347.70 L312.46,347.43 L313.12,347.16 L313.78,346.88 L314.44,346.61 L315.10,346.32 L315.76,346.04 L316.42,345.75 L317.08,345.46 L317.74,345.17 L318.40,344.87 L319.06,344.57 L319.72,344.26 L320.38,343.96 L321.04,343.65 L321.70,343.33 L322.36,343.01 L323.02,342.69 L323.68,342.37 L324.34,342.04 L325.00,341.70 L325.66,341.37 L326.32,341.02 L326.99,340.68 L327.65,340.33 L328.31,339.98 L328.97,339.62 L329.63,339.26 L330.29,338.89 L330.95,338.52 L331.61,338.15 L332.27,337.77 L332.93,337.38 L333.59,336.99 L334.25,336.60 L334.91,336.20 L335.57,335.80 L336.23,335.39 L336.89,334.97 L337.55,334.55 L338.21,334.13 L338.87,333.70 L339.53,333.26 L340.19,332.82 L340.85,332.37 L341.51,331.92 L342.17,331.46 L342.84,330.99 L343.50,330.52 L344.16,330.04 L344.82,329.55 L345.48,329.06 L346.14,328.56 L346.80,328.06 L347.46,327.54 L348.12,327.02 L348.78,326.50 L349.44,325.96 L350.10,325.42 L350.76,324.87 L351.42,324.31 L352.08,323.74 L352.74,323.17 L353.40,322.58 L354.06,321.99 L354.72,321.39 L355.38,320.78 L356.04,320.16 L356.70,319.53 L357.36,318.89 L358.02,318.24 L358.69,317.58 L359.35,316.92 L360.01,316.24 L360.67,315.55 L361.33,314.84 L361.99,314.13 L362.65,313.41 L363.31,312.67 L363.97,311.92 L364.63,311.16 L365.29,310.39 L365.95,309.60 L366.61,308.80 L367.27,307.99 L367.93,307.16 L368.59,306.32 L369.25,305.46 L369.91,304.59 L370.57,303.70 L371.23,302.80 L371.89,301.88 L372.55,300.95 L373.21,299.99 L373.88,299.02 L374.54,298.03 L375.20,297.03 L375.86,296.00 L376.52,294.96 L377.18,293.89 L377.84,292.81 L378.50,291.70 L379.16,290.57 L379.82,289.42 L380.48,288.25 L381.14,287.05 L381.80,285.83 L382.46,284.59 L383.12,283.31 L383.78,282.02 L384.44,280.69 L385.10,279.34 L385.76,277.96 L386.42,276.55 L387.08,275.10 L387.74,273.63 L388.40,272.13 L389.06,270.59 L389.72,269.01 L390.39,267.40 L391.05,265.76 L391.71,264.07 L392.37,262.35 L393.03,260.58 L393.69,258.78 L394.35,256.93 L395.01,255.03 L395.67,253.09 L396.33,251.11 L396.99,249.07 L397.65,246.98 L398.31,244.83 L398.97,242.64 L399.63,240.38 L400.29,238.07 L400.95,235.69 L401.61,233.25 L402.27,230.75 L402.93,228.17 L403.59,225.52 L404.25,222.80 L404.91,220.01 L405.57,217.13 L406.24,214.17 L406.90,211.12 L407.56,207.98 L408.22,204.74 L408.88,201.41 L409.54,197.98 L410.20,194.43 L410.86,190.78 L411.52,187.01 L412.18,183.11 L412.84,179.09 L413.50,174.94 L414.16,170.64 L414.82,166.20 L415.48,161.60 L416.14,156.84 L416.80,151.91 L417.46,146.81 L418.12,141.52 L418.78,136.03 L419.44,130.33 L420.10,124.41 L420.76,118.27 L421.42,111.88 L422.09,130.33 L422.75,146.81 L423.41,161.60 L424.07,174.94 L424.73,187.01 L425.39,197.98 L426.05,207.98 L426.71,217.13 L427.37,225.52 L428.03,233.25 L428.69,240.38 L429.35,246.98 L430.01,253.09 L430.67,258.78 L431.33,264.07 L431.99,269.01 L432.65,273.63 L433.31,277.96 L433.97,282.02 L434.63,285.83 L435.29,289.42 L435.95,292.81 L436.61,296.00 L437.27,299.02 L437.94,301.88 L438.60,304.59 L439.26,307.16 L439.92,309.60 L440.58,311.92 L441.24,314.13 L441.90,316.24 L442.56,318.24 L443.22,320.16 L443.88,321.99 L444.54,323.74 L445.20,325.42 L445.86,327.02 L446.52,328.56 L447.18,330.04 L447.84,331.46 L448.50,332.82 L449.16,334.13 L449.82,335.39 L450.48,336.60 L451.14,337.77 L451.80,338.89 L452.46,339.98 L453.12,341.02 L453.79,342.04 L454.45,343.01 L455.11,343.96 L455.77,344.87 L456.43,345.75 L457.09,346.61 L457.75,347.43 L458.41,348.23 L459.07,349.01 L459.73,349.76 L460.39,350.50 L461.05,351.20 L461.71,351.89 L462.37,352.56 L463.03,353.21 L463.69,353.84 L464.35,354.45 L465.01,355.05 L465.67,355.63 L466.33,356.20 L466.99,356.75 L467.65,357.28 L468.31,357.80 L468.97,358.31 L469.64,358.81 L470.30,359.29 L470.96,359.76 L471.62,360.22 L472.28,360.67 L472.94,361.11 L473.60,361.54 L474.26,361.95 L474.92,362.36 L475.58,362.76 L476.24,363.15 L476.90,363.53 L477.56,363.90 L478.22,364.27 L478.88,364.62 L479.54,364.97 L480.20,365.31 L480.86,365.65 L481.52,365.98 L482.18,366.30 L482.84,366.61 L483.50,366.92 L484.16,367.22 L484.82,367.51 L485.49,367.80 L486.15,368.09 L486.81,368.36 L487.47,368.64 L488.13,368.90 L488.79,369.17 L489.45,369.43 L490.11,369.68 L490.77,369.93 L491.43,370.17 L492.09,370.41 L492.75,370.64 L493.41,370.88 L494.07,371.10 L494.73,371.32 L495.39,371.54 L496.05,371.76 L496.71,371.97 L497.37,372.18 L498.03,372.38 L498.69,372.58 L499.35,372.78 L500.01,372.98 L500.67,373.17 L501.34,373.36 L502.00,373.54 L502.66,373.72 L503.32,373.90 L503.98,374.08 L504.64,374.25 L505.30,374.42 L505.96,374.59 L506.62,374.76 L507.28,374.92 L507.94,375.08 L508.60,375.24 L509.26,375.40 L509.92,375.55 L510.58,375.70 L511.24,375.85 L511.90,376.00 L512.56,376.15 L513.22,376.29 L513.88,376.43 L514.54,376.57 L515.20,376.71 L515.86,376.84 L516.52,376.98 L517.19,377.11 L517.85,377.24 L518.51,377.37 L519.17,377.49 L519.83,377.62 L520.49,377.74 L521.15,377.86 L521.81,377.98 L522.47,378.10 L523.13,378.22 L523.79,378.33 L524.45,378.45 L525.11,378.56 L525.77,378.67 L526.43,378.78 L527.09,378.89 L527.75,379.00 L528.41,379.10 L529.07,379.21 L529.73,379.31 L530.39,379.41 L531.05,379.51 L531.71,379.61 L532.38,379.71 L533.04,379.81 L533.70,379.90 L534.36,380.00 L535.02,380.09 L535.68,380.18 L536.34,380.28 L537.00,380.37 L537.66,380.46 L538.32,380.55 L538.98,380.63 L539.64,380.72 L540.30,380.81" stroke="#2aa360" />
<path d="M64.80,378.16 L65.46,378.12 L66.12,378.09 L66.78,378.06 L67.44,378.02 L68.10,377.99 L68.76,377.96 L69.42,377.92 L70.08,377.89 L70.74,377.85 L71.40,377.82 L72.06,377.79 L72.72,377.75 L73.39,377.72 L74.05,377.68 L74.71,377.65 L75.37,377.61 L76.03,377.58 L76.69,377.54 L77.35,377.51 L78.01,377.47 L78.67,377.44 L79.33,377.40 L79.99,377.36 L80.65,377.33 L81.31,377.29 L81.97,377.26 L82.63,377.22 L83.29,377.18 L83.95,377.15 L84.61,377.11 L85.27,377.07 L85.93,377.03 L86.59,377.00 L87.25,376.96 L87.91,376.92 L88.57,376.88 L89.24,376.85 L89.90,376.81 L90.56,376.77 L91.22,376.73 L91.88,376.69 L92.54,376.65 L93.20,376.62 L93.86,376.58 L94.52,376.54 L95.18,376.50 L95.84,376.46 L96.50,376.42 L97.16,376.38 L97.82,376.34 L98.48,376.30 L99.14,376.26 L99.80,376.22 L100.46,376.18 L101.12,376.14 L101.78,376.10 L102.44,376.06 L103.10,376.01 L103.76,375.97 L104.42,375.93 L105.09,375.89 L105.75,375.85 L106.41,375.81 L107.07,375.76 L107.73,375.72 L108.39,375.68 L109.05,375.64 L109.71,375.59 L110.37,375.55 L111.03,375.51 L111.69,375.46 L112.35,375.42 L113.01,375.38 L113.67,375.33 L114.33,375.29 L114.99,375.24 L115.65,375.20 L116.31,375.15 L116.97,375.11 L117.63,375.06 L118.29,375.02 L118.95,374.97 L119.61,374.93 L120.27,374.88 L120.94,374.83 L121.60,374.79 L122.26,374.74 L122.92,374.69 L123.58,374.65 L124.24,374.60 L124.90,374.55 L125.56,374.50 L126.22,374.46 L126.88,374.41 L127.54,374.36 L128.20,374.31 L128.86,374.26 L129.52,374.21 L130.18,374.17 L130.84,374.12 L131.50,374.07 L132.16,374.02 L132.82,373.97 L133.48,373.92 L134.14,373.87 L134.80,373.82 L135.46,373.76 L136.12,373.71 L136.79,373.66 L137.45,373.61 L138.11,373.56 L138.77,373.51 L139.43,373.45 L140.09,373.40 L140.75,373.35 L141.41,373.30 L142.07,373.24 L142.73,373.19 L143.39,373.13 L144.05,373.08 L144.71,373.03 L145.37,372.97 L146.03,372.92 L146.69,372.86 L147.35,372.81 L148.01,372.75 L148.67,372.69 L149.33,372.64 L149.99,372.58 L150.65,372.53 L151.31,372.47 L151.97,372.41 L152.64,372.35 L153.30,372.30 L153.96,372.24 L154.62,372.18 L155.28,372.12 L155.94,372.06 L156.60,372.00 L157.26,371.94 L157.92,371.88 L158.58,371.82 L159.24,371.76 L159.90,371.70 L160.56,371.64 L161.22,371.58 L161.88,371.52 L162.54,371.46 L163.20,371.39 L163.86,371.33 L164.52,371.27 L165.18,371.21 L165.84,371.14 L166.50,371.08 L167.16,371.01 L167.82,370.95 L168.49,370.88 L169.15,370.82 L169.81,370.75 L170.47,370.69 L171.13,370.62 L171.79,370.56 L172.45,370.49 L173.11,370.42 L173.77,370.35 L174.43,370.29 L175.09,370.22 L175.75,370.15 L176.41,370.08 L177.07,370.01 L177.73,369.94 L178.39,369.87 L179.05,369.80 L179.71,369.73 L180.37,369.66 L181.03,369.59 L181.69,369.51 L182.35,369.44 L183.01,369.37 L183.67,369.30 L184.34,369.22 L185.00,369.15 L185.66,369.07 L186.32,369.00 L186.98,368.92 L187.64,368.85 L188.30,368.77 L188.96,368.70 L189.62,368.62 L190.28,368.54 L190.94,368.46 L191.60,368.39 L192.26,368.31 L192.92,368.23 L193.58,368.15 L194.24,368.07 L194.90,367.99 L195.56,367.91 L196.22,367.83 L196.88,367.75 L197.54,367.66 L198.20,367.58 L198.86,367.50 L199.52,367.41 L200.19,367.33 L200.85,367.24 L201.51,367.16 L202.17,367.07 L202.83,366.99 L203.49,366.90 L204.15,366.81 L204.81,366.73 L205.47,366.64 L206.13,366.55 L206.79,366.46 L207.45,366.37 L208.11,366.28 L208.77,366.19 L209.43,366.10 L210.09,366.01 L210.75,365.91 L211.41,365.82 L212.07,365.73 L212.73,365.63 L213.39,365.54 L214.05,365.44 L214.71,365.35 L215.37,365.25 L216.04,365.15 L216.70,365.06 L217.36,364.96 L218.02,364.86 L218.68,364.76 L219.34,364.66 L220.00,364.56 L220.66,364.46 L221.32,364.35 L221.98,364.25 L222.64,364.15 L223.30,364.04 L223.96,363.94 L224.62,363.83 L225.28,363.73 L225.94,363.62 L226.60,363.51 L227.26,363.40 L227.92,363.30 L228.58,363.19 L229.24,363.08 L229.90,362.96 L230.56,362.85 L231.22,362.74 L231.89,362.63 L232.55,362.51 L233.21,362.40 L233.87,362.28 L234.53,362.17 L235.19,362.05 L235.85,361.93 L236.51,361.81 L237.17,361.69 L237.83,361.57 L238.49,361.45 L239.15,361.33 L239.81,361.20 L240.47,361.08 L241.13,360.96 L241.79,360.83 L242.45,360.70 L243.11,360.58 L243.77,360.45 L244.43,360.32 L245.09,360.19 L245.75,360.06 L246.41,359.93 L247.07,359.79 L247.74,359.66 L248.40,359.53 L249.06,359.39 L249.72,359.25 L250.38,359.11 L251.04,358.98 L251.70,358.84 L252.36,358.70 L253.02,358.55 L253.68,358.41 L254.34,358.27 L255.00,358.12 L255.66,357.98 L256.32,357.83 L256.98,357.68 L257.64,357.53 L258.30,357.38 L258.96,357.23 L259.62,357.08 L260.28,356.92 L260.94,356.77 L261.60,356.61 L262.26,356.45 L262.92,356.29 L263.59,356.13 L264.25,355.97 L264.91,355.81 L265.57,355.64 L266.23,355.48 L266.89,355.31 L267.55,355.14 L268.21,354.98 L268.87,354.80 L269.53,354.63 L270.19,354.46 L270.85,354.28 L271.51,354.11 L272.17,353.93 L272.83,353.75 L273.49,353.57 L274.15,353.39 L274.81,353.20 L275.47,353.02 L276.13,352.83 L276.79,352.64 L277.45,352.45 L278.11,352.26 L278.77,352.07 L279.44,351.87 L280.10,351.68 L280.76,351.48 L281.42,351.28 L282.08,351.08 L282.74,350.87 L283.40,350.67 L284.06,350.46 L284.72,350.25 L285.38,350.04 L286.04,349.83 L286.70,349.62 L287.36,349.40 L288.02,349.18 L288.68,348.96 L289.34,348.74 L290.00,348.51 L290.66,348.29 L291.32,348.06 L291.98,347.83 L292.64,347.59 L293.30,347.36 L293.96,347.12 L294.62,346.88 L295.29,346.64 L295.95,346.40 L296.61,346.15 L297.27,345.90 L297.93,345.65 L298.59,345.40 L299.25,345.14 L299.91,344.88 L300.57,344.62 L301.23,344.36 L301.89,344.09 L302.55,343.83 L303.21,343.55 L303.87,343.28 L304.53,343.00 L305.19,342.72 L305.85,342.44 L306.51,342.16 L307.17,341.87 L307.83,341.58 L308.49,341.28 L309.15,340.99 L309.81,340.69 L310.47,340.38 L311.14,340.08 L311.80,339.77 L312.46,339.45 L313.12,339.14 L313.78,338.82 L314.44,338.49 L315.10,338.17 L315.76,337.84 L316.42,337.50 L317.08,337.16 L317.74,336.82 L318.40,336.48 L319.06,336.13 L319.72,335.78 L320.38,335.42 L321.04,335.06 L321.70,334.69 L322.36,334.33 L323.02,333.95 L323.68,333.57 L324.34,333.19 L325.00,332.81 L325.66,332.42 L326.32,332.02 L326.99,331.62 L327.65,331.22 L328.31,330.81 L328.97,330.39 L329.63,329.97 L330.29,329.55 L330.95,329.12 L331.61,328.68 L332.27,328.24 L332.93,327.80 L333.59,327.34 L334.25,326.89 L334.91,326.42 L335.57,325.96 L336.23,325.48 L336.89,325.00 L337.55,324.51 L338.21,324.02 L338.87,323.52 L339.53,323.02 L340.19,322.50 L340.85,321.98 L341.51,321.46 L342.17,320.92 L342.84,320.38 L343.50,319.83 L344.16,319.28 L344.82,318.72 L345.48,318.15 L346.14,317.57 L346.80,316.98 L347.46,316.39 L348.12,315.78 L348.78,315.17 L349.44,314.55 L350.10,313.92 L350.76,313.28 L351.42,312.63 L352.08,311.98 L352.74,311.31 L353.40,310.63 L354.06,309.95 L354.72,309.25 L355.38,308.54 L356.04,307.82 L356.70,307.09 L357.36,306.35 L358.02,305.60 L358.69,304.84 L359.35,304.06 L360.01,303.27 L360.67,302.47 L361.33,301.66 L361.99,300.83 L362.65,299.99 L363.31,299.14 L363.97,298.27 L364.63,297.39 L365.29,296.49 L365.95,295.58 L366.61,294.65 L367.27,293.71 L367.93,292.75 L368.59,291.77 L369.25,290.78 L369.91,289.76 L370.57,288.74 L371.23,287.69 L371.89,286.62 L372.55,285.54 L373.21,284.43 L373.88,283.31 L374.54,282.16 L375.20,281.00 L375.86,279.81 L376.52,278.59 L377.18,277.36 L377.84,276.10 L378.50,274.82 L379.16,273.51 L379.82,272.18 L380.48,270.81 L381.14,269.43 L381.80,268.01 L382.46,266.57 L383.12,265.09 L383.78,263.59 L384.44,262.05 L385.10,260.48 L385.76,258.88 L386.42,257.24 L387.08,255.57 L387.74,253.86 L388.40,252.12 L389.06,250.33 L389.72,248.50 L390.39,246.64 L391.05,244.73 L391.71,242.78 L392.37,240.78 L393.03,238.73 L393.69,236.64 L394.35,234.49 L395.01,232.29 L395.67,230.04 L396.33,227.74 L396.99,225.37 L397.65,222.95 L398.31,220.47 L398.97,217.92 L399.63,215.30 L400.29,212.62 L400.95,209.86 L401.61,207.03 L402.27,204.13 L402.93,201.14 L403.59,198.07 L404.25,194.92 L404.91,191.67 L405.57,188.33 L406.24,184.90 L406.90,181.36 L407.56,177.72 L408.22,173.97 L408.88,170.11 L409.54,166.12 L410.20,162.01 L410.86,157.77 L411.52,153.40 L412.18,148.88 L412.84,144.22 L413.50,139.40 L414.16,134.42 L414.82,129.27 L415.48,123.94 L416.14,118.42 L416.80,112.70 L417.46,106.78 L418.12,100.64 L418.78,94.28 L419.44,87.67 L420.10,80.81 L420.76,73.68 L421.42,66.27 L422.09,87.67 L422.75,106.78 L423.41,123.94 L424.07,139.40 L424.73,153.40 L425.39,166.12 L426.05,177.72 L426.71,188.33 L427.37,198.07 L428.03,207.03 L428.69,215.30 L429.35,222.95 L430.01,230.04 L430.67,236.64 L431.33,242.78 L431.99,248.50 L432.65,253.86 L433.31,258.88 L433.97,263.59 L434.63,268.01 L435.29,272.18 L435.95,276.10 L436.61,279.81 L437.27,283.31 L437.94,286.62 L438.60,289.76 L439.26,292.75 L439.92,295.58 L440.58,298.27 L441.24,300.83 L441.90,303.27 L442.56,305.60 L443.22,307.82 L443.88,309.95 L444.54,311.98 L445.20,313.92 L445.86,315.78 L446.52,317.57 L447.18,319.28 L447.84,320.92 L448.50,322.50 L449.16,324.02 L449.82,325.48 L450.48,326.89 L451.14,328.24 L451.80,329.55 L452.46,330.81 L453.12,332.02 L453.79,333.19 L454.45,334.33 L455.11,335.42 L455.77,336.48 L456.43,337.50 L457.09,338.49 L457.75,339.45 L458.41,340.38 L459.07,341.28 L459.73,342.16 L460.39,343.00 L461.05,343.83 L461.71,344.62 L462.37,345.40 L463.03,346.15 L463.69,346.88 L464.35,347.59 L465.01,348.29 L465.67,348.96 L466.33,349.62 L466.99,350.25 L467.65,350.87 L468.31,351.48 L468.97,352.07 L469.64,352.64 L470.30,353.20 L470.96,353.75 L471.62,354.28 L472.28,354.80 L472.94,355.31 L473.60,355.81 L474.26,356.29 L474.92,356.77 L475.58,357.23 L476.24,357.68 L476.90,358.12 L477.56,358.55 L478.22,358.98 L478.88,359.39 L479.54,359.79 L480.20,360.19 L480.86,360.58 L481.52,360.96 L482.18,361.33 L482.84,361.69 L483.50,362.05 L484.16,362.40 L484.82,362.74 L485.49,363.08 L486.15,363.40 L486.81,363.73 L487.47,364.04 L488.13,364.35 L488.79,364.66 L489.45,364.96 L490.11,365.25 L490.77,365.54 L491.43,365.82 L492.09,366.10 L492.75,366.37 L493.41,366.64 L494.07,366.90 L494.73,367.16 L495.39,367.41 L496.05,367.66 L496.71,367.91 L497.37,368.15 L498.03,368.39 L498.69,368.62 L499.35,368.85 L500.01,369.07 L500.67,369.30 L501.34,369.51 L502.00,369.73 L502.66,369.94 L503.32,370.15 L503.98,370.35 L504.64,370.56 L505.30,370.75 L505.96,370.95 L506.62,371.14 L507.28,371.33 L507.94,371.52 L508.60,371.70 L509.26,371.88 L509.92,372.06 L510.58,372.24 L511.24,372.41 L511.90,372.58 L512.56,372.75 L513.22,372.92 L513.88,373.08 L514.54,373.24 L515.20,373.40 L515.86,373.56 L516.52,373.71 L517.19,373.87 L517.85,374.02 L518.51,374.17 L519.17,374.31 L519.83,374.46 L520.49,374.60 L521.15,374.74 L521.81,374.88 L522.47,375.02 L523.13,375.15 L523.79,375.29 L524.45,375.42 L525.11,375.55 L525.77,375.68 L526.43,375.81 L527.09,375.93 L527.75,376.06 L528.41,376.18 L529.07,376.30 L529.73,376.42 L530.39,376.54 L531.05,376.65 L531.71,376.77 L532.38,376.88 L533.04,377.00 L533.70,377.11 L534.36,377.22 L535.02,377.33 L535.68,377.44 L536.34,377.54 L537.00,377.65 L537.66,377.75 L538.32,377.85 L538.98,377.96 L539.64,378.06 L540.30,378.16" stroke="#aa5fd8" />
<path d="M64.80,376.16 L65.46,376.12 L66.12,376.09 L66.78,376.05 L67.44,376.01 L68.10,375.97 L68.76,375.94 L69.42,375.90 L70.08,375.86 L70.74,375.83 L71.40,375.79 L72.06,375.75 L72.72,375.71 L73.39,375.67 L74.05,375.64 L74.71,375.60 L75.37,375.56 L76.03,375.52 L76.69,375.48 L77.35,375.44 L78.01,375.40 L78.67,375.36 L79.33,375.32 L79.99,375.28 L80.65,375.24 L81.31,375.20 L81.97,375.16 L82.63,375.12 L83.29,375.08 L83.95,375.04 L84.61,375.00 L85.27,374.96 L85.93,374.92 L86.59,374.88 L87.25,374.84 L87.91,374.80 L88.57,374.76 L89.24,374.71 L89.90,374.67 L90.56,374.63 L91.22,374.59 L91.88,374.54 L92.54,374.50 L93.20,374.46 L93.86,374.42 L94.52,374.37 L95.18,374.33 L95.84,374.29 L96.50,374.24 L97.16,374.20 L97.82,374.15 L98.48,374.11 L99.14,374.07 L99.80,374.02 L100.46,373.98 L101.12,373.93 L101.78,373.89 L102.44,373.84 L103.10,373.80 L103.76,373.75 L104.42,373.70 L105.09,373.66 L105.75,373.61 L106.41,373.57 L107.07,373.52 L107.73,373.47 L108.39,373.42 L109.05,373.38 L109.71,373.33 L110.37,373.28 L111.03,373.23 L111.69,373.19 L112.35,373.14 L113.01,373.09 L113.67,373.04 L114.33,372.99 L114.99,372.94 L115.65,372.89 L116.31,372.84 L116.97,372.79 L117.63,372.74 L118.29,372.69 L118.95,372.64 L119.61,372.59 L120.27,372.54 L120.94,372.49 L121.60,372.44 L122.26,372.39 L122.92,372.34 L123.58,372.29 L124.24,372.23 L124.90,372.18 L125.56,372.13 L126.22,372.08 L126.88,372.02 L127.54,371.97 L128.20,371.92 L128.86,371.86 L129.52,371.81 L130.18,371.75 L130.84,371.70 L131.50,371.65 L132.16,371.59 L132.82,371.53 L133.48,371.48 L134.14,371.42 L134.80,371.37 L135.46,371.31 L136.12,371.26 L136.79,371.20 L137.45,371.14 L138.11,371.08 L138.77,371.03 L139.43,370.97 L140.09,370.91 L140.75,370.85 L141.41,370.79 L142.07,370.73 L142.73,370.68 L143.39,370.62 L144.05,370.56 L144.71,370.50 L145.37,370.44 L146.03,370.38 L146.69,370.32 L147.35,370.25 L148.01,370.19 L148.67,370.13 L149.33,370.07 L149.99,370.01 L150.65,369.94 L151.31,369.88 L151.97,369.82 L152.64,369.75 L153.30,369.69 L153.96,369.63 L154.62,369.56 L155.28,369.50 L155.94,369.43 L156.60,369.37 L157.26,369.30 L157.92,369.24 L158.58,369.17 L159.24,369.10 L159.90,369.03 L160.56,368.97 L161.22,368.90 L161.88,368.83 L162.54,368.76 L163.20,368.69 L163.86,368.63 L164.52,368.56 L165.18,368.49 L165.84,368.42 L166.50,368.35 L167.16,368.28 L167.82,368.20 L168.49,368.13 L169.15,368.06 L169.81,367.99 L170.47,367.92 L171.13,367.84 L171.79,367.77 L172.45,367.70 L173.11,367.62 L173.77,367.55 L174.43,367.47 L175.09,367.40 L175.75,367.32 L176.41,367.24 L177.07,367.17 L177.73,367.09 L178.39,367.01 L179.05,366.94 L179.71,366.86 L180.37,366.78 L181.03,366.70 L181.69,366.62 L182.35,366.54 L183.01,366.46 L183.67,366.38 L184.34,366.30 L185.00,366.22 L185.66,366.13 L186.32,366.05 L186.98,365.97 L187.64,365.89 L188.30,365.80 L188.96,365.72 L189.62,365.63 L190.28,365.55 L190.94,365.46 L191.60,365.38 L192.26,365.29 L192.92,365.20 L193.58,365.11 L194.24,365.03 L194.90,364.94 L195.56,364.85 L196.22,364.76 L196.88,364.67 L197.54,364.58 L198.20,364.49 L198.86,364.39 L199.52,364.30 L200.19,364.21 L200.85,364.12 L201.51,364.02 L202.17,363.93 L202.83,363.83 L203.49,363.74 L204.15,363.64 L204.81,363.54 L205.47,363.45 L206.13,363.35 L206.79,363.25 L207.45,363.15 L208.11,363.05 L208.77,362.95 L209.43,362.85 L210.09,362.75 L210.75,362.65 L211.41,362.54 L212.07,362.44 L212.73,362.34 L213.39,362.23 L214.05,362.13 L214.71,362.02 L215.37,361.91 L216.04,361.81 L216.70,361.70 L217.36,361.59 L218.02,361.48 L218.68,361.37 L219.34,361.26 L220.00,361.15 L220.66,361.04 L221.32,360.92 L221.98,360.81 L222.64,360.70 L223.30,360.58 L223.96,360.47 L224.62,360.35 L225.28,360.23 L225.94,360.11 L226.60,360.00 L227.26,359.88 L227.92,359.76 L228.58,359.63 L229.24,359.51 L229.90,359.39 L230.56,359.27 L231.22,359.14 L231.89,359.02 L232.55,358.89 L233.21,358.76 L233.87,358.64 L234.53,358.51 L235.19,358.38 L235.85,358.25 L236.51,358.12 L237.17,357.99 L237.83,357.85 L238.49,357.72 L239.15,357.58 L239.81,357.45 L240.47,357.31 L241.13,357.17 L241.79,357.04 L242.45,356.90 L243.11,356.76 L243.77,356.61 L244.43,356.47 L245.09,356.33 L245.75,356.18 L246.41,356.04 L247.07,355.89 L247.74,355.74 L248.40,355.59 L249.06,355.44 L249.72,355.29 L250.38,355.14 L251.04,354.99 L251.70,354.83 L252.36,354.68 L253.02,354.52 L253.68,354.36 L254.34,354.21 L255.00,354.05 L255.66,353.88 L256.32,353.72 L256.98,353.56 L257.64,353.39 L258.30,353.23 L258.96,353.06 L259.62,352.89 L260.28,352.72 L260.94,352.55 L261.60,352.38 L262.26,352.20 L262.92,352.03 L263.59,351.85 L264.25,351.67 L264.91,351.49 L265.57,351.31 L266.23,351.13 L266.89,350.94 L267.55,350.76 L268.21,350.57 L268.87,350.38 L269.53,350.19 L270.19,350.00 L270.85,349.81 L271.51,349.61 L272.17,349.42 L272.83,349.22 L273.49,349.02 L274.15,348.82 L274.81,348.62 L275.47,348.41 L276.13,348.21 L276.79,348.00 L277.45,347.79 L278.11,347.58 L278.77,347.36 L279.44,347.15 L280.10,346.93 L280.76,346.71 L281.42,346.49 L282.08,346.27 L282.74,346.05 L283.40,345.82 L284.06,345.59 L284.72,345.36 L285.38,345.13 L286.04,344.89 L286.70,344.66 L287.36,344.42 L288.02,344.18 L288.68,343.93 L289.34,343.69 L290.00,343.44 L290.66,343.19 L291.32,342.94 L291.98,342.68 L292.64,342.43 L293.30,342.17 L293.96,341.90 L294.62,341.64 L295.29,341.37 L295.95,341.10 L296.61,340.83 L297.27,340.56 L297.93,340.28 L298.59,340.00 L299.25,339.72 L299.91,339.43 L300.57,339.15 L301.23,338.86 L301.89,338.56 L302.55,338.27 L303.21,337.97 L303.87,337.66 L304.53,337.36 L305.19,337.05 L305.85,336.74 L306.51,336.42 L307.17,336.10 L307.83,335.78 L308.49,335.46 L309.15,335.13 L309.81,334.80 L310.47,334.46 L311.14,334.13 L311.80,333.78 L312.46,333.44 L313.12,333.09 L313.78,332.74 L314.44,332.38 L315.10,332.02 L315.76,331.65 L316.42,331.29 L317.08,330.91 L317.74,330.54 L318.40,330.16 L319.06,329.77 L319.72,329.38 L320.38,328.99 L321.04,328.59 L321.70,328.19 L322.36,327.78 L323.02,327.37 L323.68,326.95 L324.34,326.53 L325.00,326.10 L325.66,325.67 L326.32,325.23 L326.99,324.79 L327.65,324.35 L328.31,323.89 L328.97,323.44 L329.63,322.97 L330.29,322.51 L330.95,322.03 L331.61,321.55 L332.27,321.06 L332.93,320.57 L333.59,320.07 L334.25,319.57 L334.91,319.06 L335.57,318.54 L336.23,318.02 L336.89,317.49 L337.55,316.95 L338.21,316.41 L338.87,315.85 L339.53,315.30 L340.19,314.73 L340.85,314.16 L341.51,313.58 L342.17,312.99 L342.84,312.39 L343.50,311.79 L344.16,311.17 L344.82,310.55 L345.48,309.92 L346.14,309.28 L346.80,308.63 L347.46,307.98 L348.12,307.31 L348.78,306.64 L349.44,305.95 L350.10,305.26 L350.76,304.55 L351.42,303.84 L352.08,303.11 L352.74,302.38 L353.40,301.63 L354.06,300.87 L354.72,300.10 L355.38,299.32 L356.04,298.53 L356.70,297.72 L357.36,296.90 L358.02,296.07 L358.69,295.23 L359.35,294.37 L360.01,293.50 L360.67,292.62 L361.33,291.72 L361.99,290.81 L362.65,289.88 L363.31,288.94 L363.97,287.98 L364.63,287.01 L365.29,286.02 L365.95,285.01 L366.61,283.98 L367.27,282.94 L367.93,281.88 L368.59,280.81 L369.25,279.71 L369.91,278.59 L370.57,277.46 L371.23,276.30 L371.89,275.13 L372.55,273.93 L373.21,272.71 L373.88,271.47 L374.54,270.20 L375.20,268.91 L375.86,267.60 L376.52,266.26 L377.18,264.90 L377.84,263.51 L378.50,262.10 L379.16,260.65 L379.82,259.18 L380.48,257.68 L381.14,256.15 L381.80,254.58 L382.46,252.99 L383.12,251.36 L383.78,249.70 L384.44,248.00 L385.10,246.27 L385.76,244.50 L386.42,242.70 L387.08,240.85 L387.74,238.97 L388.40,237.04 L389.06,235.07 L389.72,233.05 L390.39,230.99 L391.05,228.88 L391.71,226.73 L392.37,224.52 L393.03,222.26 L393.69,219.95 L394.35,217.58 L395.01,215.16 L395.67,212.68 L396.33,210.13 L396.99,207.52 L397.65,204.85 L398.31,202.10 L398.97,199.29 L399.63,196.40 L400.29,193.44 L400.95,190.40 L401.61,187.28 L402.27,184.07 L402.93,180.77 L403.59,177.38 L404.25,173.90 L404.91,170.32 L405.57,166.64 L406.24,162.84 L406.90,158.94 L407.56,154.92 L408.22,150.78 L408.88,146.52 L409.54,142.12 L410.20,137.58 L410.86,132.91 L411.52,128.08 L412.18,123.09 L412.84,117.95 L413.50,112.63 L414.16,107.13 L414.82,101.44 L415.48,95.56 L416.14,89.46 L416.80,83.16 L417.46,76.62 L418.12,69.84 L418.78,62.82 L419.44,55.52 L420.10,47.95 L420.76,40.08 L421.42,31.91 L422.09,55.52 L422.75,76.62 L423.41,95.56 L424.07,112.63 L424.73,128.08 L425.39,142.12 L426.05,154.92 L426.71,166.64 L427.37,177.38 L428.03,187.28 L428.69,196.40 L429.35,204.85 L430.01,212.68 L430.67,219.95 L431.33,226.73 L431.99,233.05 L432.65,238.97 L433.31,244.50 L433.97,249.70 L434.63,254.58 L435.29,259.18 L435.95,263.51 L436.61,267.60 L437.27,271.47 L437.94,275.13 L438.60,278.59 L439.26,281.88 L439.92,285.01 L440.58,287.98 L441.24,290.81 L441.90,293.50 L442.56,296.07 L443.22,298.53 L443.88,300.87 L444.54,303.11 L445.20,305.26 L445.86,307.31 L446.52,309.28 L447.18,311.17 L447.84,312.99 L448.50,314.73 L449.16,316.41 L449.82,318.02 L450.48,319.57 L451.14,321.06 L451.80,322.51 L452.46,323.89 L453.12,325.23 L453.79,326.53 L454.45,327.78 L455.11,328.99 L455.77,330.16 L456.43,331.29 L457.09,332.38 L457.75,333.44 L458.41,334.46 L459.07,335.46 L459.73,336.42 L460.39,337.36 L461.05,338.27 L461.71,339.15 L462.37,340.00 L463.03,340.83 L463.69,341.64 L464.35,342.43 L465.01,343.19 L465.67,343.93 L466.33,344.66 L466.99,345.36 L467.65,346.05 L468.31,346.71 L468.97,347.36 L469.64,348.00 L470.30,348.62 L470.96,349.22 L471.62,349.81 L472.28,350.38 L472.94,350.94 L473.60,351.49 L474.26,352.03 L474.92,352.55 L475.58,353.06 L476.24,353.56 L476.90,354.05 L477.56,354.52 L478.22,354.99 L478.88,355.44 L479.54,355.89 L480.20,356.33 L480.86,356.76 L481.52,357.17 L482.18,357.58 L482.84,357.99 L483.50,358.38 L484.16,358.76 L484.82,359.14 L485.49,359.51 L486.15,359.88 L486.81,360.23 L487.47,360.58 L488.13,360.92 L488.79,361.26 L489.45,361.59 L490.11,361.91 L490.77,362.23 L491.43,362.54 L492.09,362.85 L492.75,363.15 L493.41,363.45 L494.07,363.74 L494.73,364.02 L495.39,364.30 L496.05,364.58 L496.71,364.85 L497.37,365.11 L498.03,365.38 L498.69,365.63 L499.35,365.89 L500.01,366.13 L500.67,366.38 L501.34,366.62 L502.00,366.86 L502.66,367.09 L503.32,367.32 L503.98,367.55 L504.64,367.77 L505.30,367.99 L505.96,368.20 L506.62,368.42 L507.28,368.63 L507.94,368.83 L508.60,369.03 L509.26,369.24 L509.92,369.43 L510.58,369.63 L511.24,369.82 L511.90,370.01 L512.56,370.19 L513.22,370.38 L513.88,370.56 L514.54,370.73 L515.20,370.91 L515.86,371.08 L516.52,371.26 L517.19,371.42 L517.85,371.59 L518.51,371.75 L519.17,371.92 L519.83,372.08 L520.49,372.23 L521.15,372.39 L521.81,372.54 L522.47,372.69 L523.13,372.84 L523.79,372.99 L524.45,373.14 L525.11,373.28 L525.77,373.42 L526.43,373.57 L527.09,373.70 L527.75,373.84 L528.41,373.98 L529.07,374.11 L529.73,374.24 L530.39,374.37 L531.05,374.50 L531.71,374.63 L532.38,374.76 L533.04,374.88 L533.70,375.00 L534.36,375.12 L535.02,375.24 L535.68,375.36 L536.34,375.48 L537.00,375.60 L537.66,375.71 L538.32,375.83 L538.98,375.94 L539.64,376.05 L540.30,376.16" stroke="#cc9900" />
</g>
<g stroke="#000" stroke-width="1.6" fill="none">
<path d="M64.8,14.15 L64.8,397.7 L540.3,397.7" stroke-linecap="square"/>
<line x1="64.8" y1="365.46" x2="68.1" y2="365.46"/>
<line x1="64.8" y1="333.52" x2="71.8" y2="333.52"/>
<line x1="64.8" y1="301.59" x2="68.1" y2="301.59"/>
<line x1="64.8" y1="269.65" x2="71.8" y2="269.65"/>
<line x1="64.8" y1="237.71" x2="68.1" y2="237.71"/>
<line x1="64.8" y1="205.77" x2="71.8" y2="205.77"/>
<line x1="64.8" y1="173.84" x2="68.1" y2="173.84"/>
<line x1="64.8" y1="141.90" x2="71.8" y2="141.90"/>
<line x1="64.8" y1="109.96" x2="68.1" y2="109.96"/>
<line x1="64.8" y1="78.02" x2="71.8" y2="78.02"/>
<line x1="64.8" y1="46.09" x2="68.1" y2="46.09"/>
<line x1="64.8" y1="14.15" x2="71.8" y2="14.15"/>
<line x1="144.05" y1="397.4" x2="144.05" y2="394.09999999999997"/>
<line x1="223.30" y1="397.4" x2="223.30" y2="390.4"/>
<line x1="302.55" y1="397.4" x2="302.55" y2="394.09999999999997"/>
<line x1="381.80" y1="397.4" x2="381.80" y2="390.4"/>
<line x1="461.05" y1="397.4" x2="461.05" y2="394.09999999999997"/>
<path d="M540.3,389.46 L540.3,397.7" stroke-linecap="square"/>
</g>
<g font-family="'Liberation Serif', 'Times New Roman', serif" font-weight="bold" font-size="17" fill="#000">
<text transform="translate(56.3,402.50) scale(0.955,1.025)" text-anchor="end">0</text>
<text transform="translate(56.3,338.62) scale(0.955,1.025)" text-anchor="end">50</text>
<text transform="translate(56.3,274.75) scale(0.955,1.025)" text-anchor="end">100</text>
<text transform="translate(56.3,210.87) scale(0.955,1.025)" text-anchor="end">150</text>
<text transform="translate(56.3,147.00) scale(0.955,1.025)" text-anchor="end">200</text>
<text transform="translate(56.3,83.12) scale(0.955,1.025)" text-anchor="end">250</text>
<text transform="translate(56.3,19.25) scale(0.955,1.025)" text-anchor="end">300</text>
<text transform="translate(64.80,418.7) scale(0.955,1.025)" text-anchor="middle">0</text>
<text transform="translate(223.30,418.7) scale(0.955,1.025)" text-anchor="middle">1</text>
<text transform="translate(381.80,418.7) scale(0.955,1.025)" text-anchor="middle">2</text>
<text transform="translate(540.30,418.7) scale(0.955,1.025)" text-anchor="middle">3</text>
</g>
<g stroke-width="1.8">
<line x1="442.2" y1="25.4" x2="488.2" y2="25.4" stroke="#3c3c3c"/>
<line x1="442.2" y1="49.9" x2="488.2" y2="49.9" stroke="#f23538"/>
<line x1="442.2" y1="74.3" x2="488.2" y2="74.3" stroke="#0a60d8"/>
<line x1="442.2" y1="98.8" x2="488.2" y2="98.8" stroke="#2aa360"/>
<line x1="442.2" y1="123.4" x2="488.2" y2="123.4" stroke="#aa5fd8"/>
<line x1="442.2" y1="147.9" x2="488.2" y2="147.9" stroke="#cc9900"/>
</g>
<g font-family="'Liberation Serif', 'Times New Roman', serif" font-size="19.8" fill="#000">
<text x="493.5" y="31.7">1a</text>
<text x="493.5" y="56.2">5a</text>
<text x="493.5" y="80.6">10a</text>
<text x="493.5" y="105.1">20a</text>
<text x="493.5" y="129.7">50a</text>
<text x="493.5" y="154.2">100a</text>
</g>
<text x="302.3" y="450.4" text-anchor="middle" font-family="'Liberation Serif', 'Times New Roman', serif" font-weight="bold" font-size="19.5">Time/[h]</text>
<text transform="translate(23.3,206.3) rotate(-90)" text-anchor="middle" font-family="'Liberation Serif', 'Times New Roman', serif" font-weight="bold" font-size="20">Rainfall intensity/[mm·h<tspan dy="-8" font-size="13.5">−1</tspan><tspan dy="8">]</tspan></text>
<text x="199.8" y="476.3" textLength="204.8" lengthAdjust="spacingAndGlyphs" font-family="'Liberation Serif', 'Times New Roman', serif" font-size="16">(<tspan font-weight="bold">c</tspan>) Rain crest factor r = 0.75</text>
</svg>
</body></html>
